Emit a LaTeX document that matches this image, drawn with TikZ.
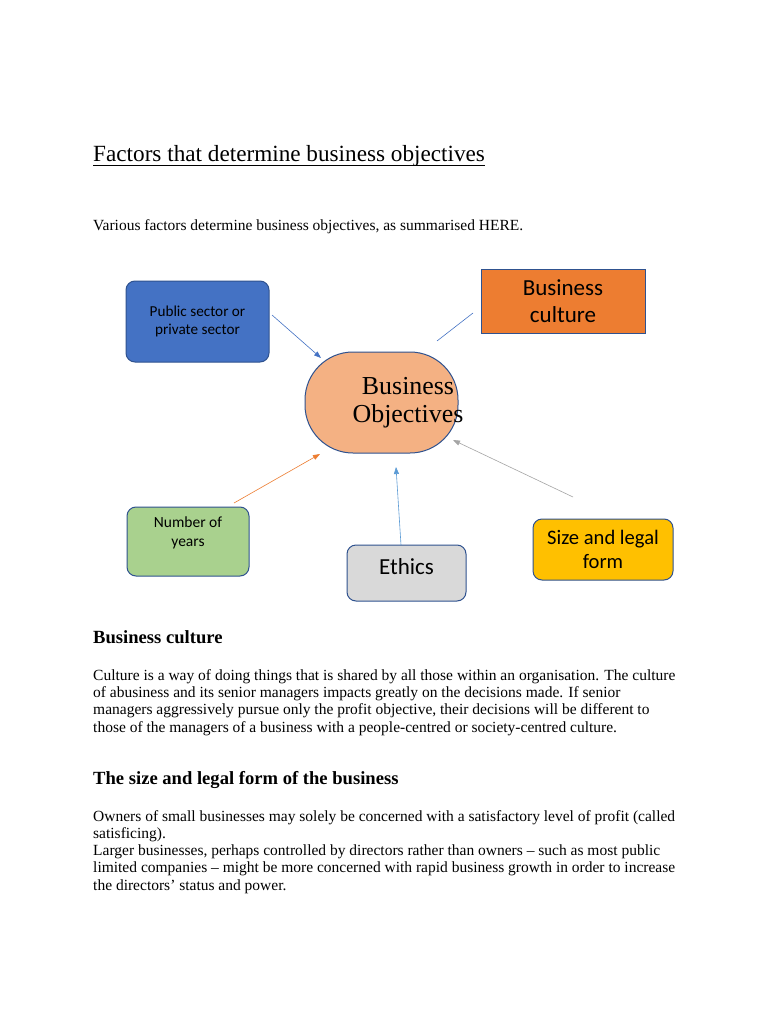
\documentclass[tikz,border=0pt]{standalone}
\usepackage{fontspec}
\setmainfont{Liberation Serif}
\newfontfamily\calibri{Carlito}
\usetikzlibrary{arrows.meta,positioning}
\definecolor{edgeblue}{HTML}{2F528F}
\definecolor{pubblue}{HTML}{4472C4}
\definecolor{cultorange}{HTML}{ED7D31}
\definecolor{objpeach}{HTML}{F4B183}
\definecolor{yearsgreen}{HTML}{A9D18E}
\definecolor{ethicsgray}{HTML}{D9D9D9}
\definecolor{sizegold}{HTML}{FFC000}
\definecolor{skyblue}{HTML}{5B9BD5}
\definecolor{arrowgray}{HTML}{A5A5A5}

\begin{document}
\begin{tikzpicture}[x=1pt,y=-1pt,
  factor/.style={draw=edgeblue,line width=1pt,rounded corners=9pt,align=center,inner sep=0pt},
  link/.style={line width=0.6pt,-{Triangle[length=7pt,width=5pt]}},
  para/.style={anchor=base west,align=left,inner sep=0pt,font=\fontsize{15.5}{17.2}\selectfont},
  heading/.style={anchor=base west,inner sep=0pt,font=\fontsize{18.6}{22}\selectfont\bfseries}]
\useasboundingbox (0,0) rectangle (768,1024);
\fill[white] (0,0) rectangle (768,1024);

% title and intro
\node[anchor=base west,inner sep=0pt,font=\fontsize{23.2}{27}\selectfont] (title) at (93,162) {Factors that determine business objectives};
\draw[line width=0.8pt] ([yshift=-3.5]title.base west) -- ([yshift=-3.5]title.base east);
\node[para] (intro) at (93,231) {Various factors determine business objectives, as summarised HERE.};

% the factor boxes
\node[factor,fill=pubblue,minimum width=143,minimum height=81,font=\calibri\fontsize{15.2}{18.5}\selectfont] (pub) at (197.5,321.5) {Public sector or\\private sector};
\node[factor,rounded corners=0pt,fill=cultorange,minimum width=164,minimum height=64,font=\calibri\fontsize{23}{27}\selectfont] (culture) at (563,301) {Business\\culture};
\node[factor,rounded corners=48pt,fill=objpeach,minimum width=153,minimum height=101] (obj) at (381.5,402.5) {};
\node[inner sep=0pt,align=center,font=\fontsize{25.9}{28}\selectfont] (objlbl) at ([xshift=26.5]obj.center) {Business\\Objectives};
\node[factor,fill=yearsgreen,minimum width=122,minimum height=69] (years) at (188,541.5) {};
\node[inner sep=0pt,align=center,font=\calibri\fontsize{15.5}{19}\selectfont] (yearslbl) at ([yshift=8.5]years.center) {Number of\\years};
\node[factor,fill=ethicsgray,minimum width=119,minimum height=56] (ethics) at (406.5,573) {};
\node[inner sep=0pt,font=\calibri\fontsize{23}{27}\selectfont] (ethicslbl) at ([yshift=6]ethics.center) {Ethics};
\node[factor,fill=sizegold,minimum width=140,minimum height=61,font=\calibri\fontsize{20.6}{23.5}\selectfont] (size) at (603,549.5) {Size and legal\\form};

% loose ends of the connectors
\coordinate (pubtail) at (272,315);
\coordinate (pubhead) at (321,358);
\coordinate (culttail) at (473,313);
\coordinate (culthead) at (437,341);
\coordinate (yearstail) at (234,503);
\coordinate (yearshead) at (320,454);
\coordinate (ethicstail) at (401,545);
\coordinate (ethicshead) at (396,467);
\coordinate (sizetail) at (573,497);
\coordinate (sizehead) at (453,440);

\draw[link,pubblue] (pubtail) -- (pubhead);
\draw[pubblue,line width=0.6pt] (culttail) -- (culthead);
\draw[link,cultorange] (yearstail) -- (yearshead);
\draw[link,skyblue] (ethicstail) -- (ethicshead);
\draw[link,arrowgray] (sizetail) -- (sizehead);

% text below (base = last line)
\node[heading] (cultheading) at (93,643) {Business culture};
\node[para] (cultpara) at (93,732) {Culture is a way of doing things that is shared by all those within an organisation. The culture\\
of abusiness and its senior managers impacts greatly on the decisions made. If senior\\
managers aggressively pursue only the profit objective, their decisions will be different to\\
those of the managers of a business with a people-centred or society-centred culture.};
\node[heading] (sizeheading) at (93,784) {The size and legal form of the business};
\node[para] (sizepara) at (93,890) {Owners of small businesses may solely be concerned with a satisfactory level of profit (called\\
satisficing).\\
Larger businesses, perhaps controlled by directors rather than owners -- such as most public\\
limited companies -- might be more concerned with rapid business growth in order to increase\\
the directors' status and power.};
\end{tikzpicture}
\end{document}
